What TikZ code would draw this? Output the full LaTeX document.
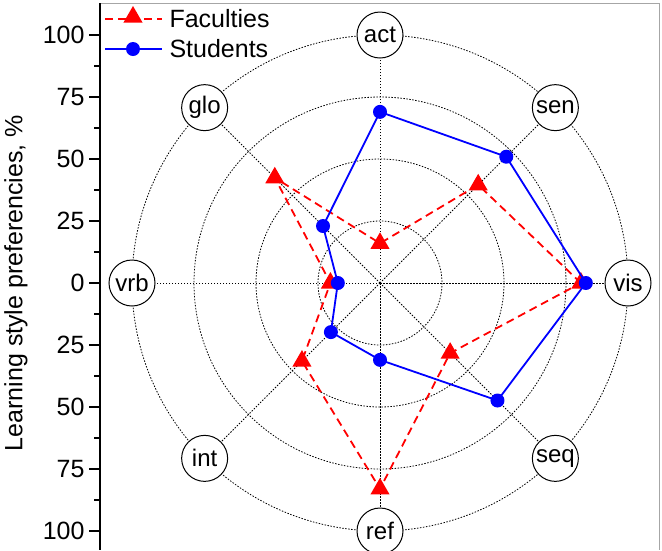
\documentclass[tikz,border=0pt]{standalone}
\usepackage{fontspec}
\setmainfont{Liberation Sans}
\usetikzlibrary{calc,shapes.geometric}

\begin{document}
\begin{tikzpicture}[x=1pt,y=-1pt,
    grid/.style={black,dash pattern=on 1.5pt off 1.5pt,line width=0.8pt},
    lbl/.style={circle,draw,line width=1pt,fill=white,minimum size=46pt,inner sep=0pt,font=\fontsize{24}{24}\selectfont},
    fac/.style={red,line width=1.8pt,dash pattern=on 8pt off 5pt},
    stu/.style={blue,line width=1.8pt},
    tri/.style={regular polygon,regular polygon sides=3,fill=red,inner sep=0pt,minimum size=22pt},
    dot/.style={circle,fill=blue,inner sep=0pt,minimum size=14pt}]
  \useasboundingbox (0,0) rectangle (662,550);
  \coordinate (C) at (380,283);
  \def\u{2.48} % px per percent

  % frame and rings
  \draw[gray!70] (100,3) -- (659,3) -- (659,550);
  \foreach \r in {25,50,75,100}
    \draw[grid] (C) circle ({\r*\u});
  \foreach \a in {0,45,...,315}
    \draw[grid] (C) -- ++(\a:{106*\u});

  % axis labels (spoke circles)
  \foreach \name/\a in {vis/0,sen/-45,act/-90,glo/-135,vrb/180,int/135,ref/90,seq/45}
    \node[lbl] (\name) at ($(C)+(\a:{100*\u})$) {\name};

  % left axis
  \draw[line width=1.5pt] (100,3) -- (100,550);
  \foreach \v/\t in {35/100,97/75,159/50,221/25,283/0,345/25,407/50,469/75,531/100}{
    \draw[line width=1.5pt] (100,\v) -- (89,\v);
    \node[anchor=east,font=\fontsize{25}{25}\selectfont] at (88,\v) {\t};
  }
  \foreach \v in {66,128,190,252,314,376,438,500}
    \draw[line width=1.5pt] (100,\v) -- (94,\v);
  \node[rotate=90,font=\fontsize{25}{25}\selectfont] at (16,283) {Learning style preferencies, \%};

  % data
  \draw[fac] ($(C)+(0:{81*\u})$)
    \foreach \a/\v in {-45/56,-90/16,-135/60,180/20,135/44.5,90/83,45/40} { -- ($(C)+(\a:{\v*\u})$) } -- cycle;
  \foreach \a/\v in {0/81,-45/56,-90/16,-135/60,180/20,135/44.5,90/83,45/40}
    \node[tri] at ($(C)+(\a:{\v*\u})$) {};
  \draw[stu] ($(C)+(0:{83*\u})$)
    \foreach \a/\v in {-45/72,-90/69,-135/32.5,180/17,135/28,90/31,45/67} { -- ($(C)+(\a:{\v*\u})$) } -- cycle;
  \foreach \a/\v in {0/83,-45/72,-90/69,-135/32.5,180/17,135/28,90/31,45/67}
    \node[dot] at ($(C)+(\a:{\v*\u})$) {};

  % legend
  \draw[fac] (105,19) -- (162,19);
  \node[tri] at (133,17) {};
  \node[anchor=west,font=\fontsize{25}{25}\selectfont] at (166,19) {Faculties};
  \draw[stu] (105,49) -- (162,49);
  \node[dot] at (133,49) {};
  \node[anchor=west,font=\fontsize{25}{25}\selectfont] at (166,49) {Students};
\end{tikzpicture}
\end{document}
